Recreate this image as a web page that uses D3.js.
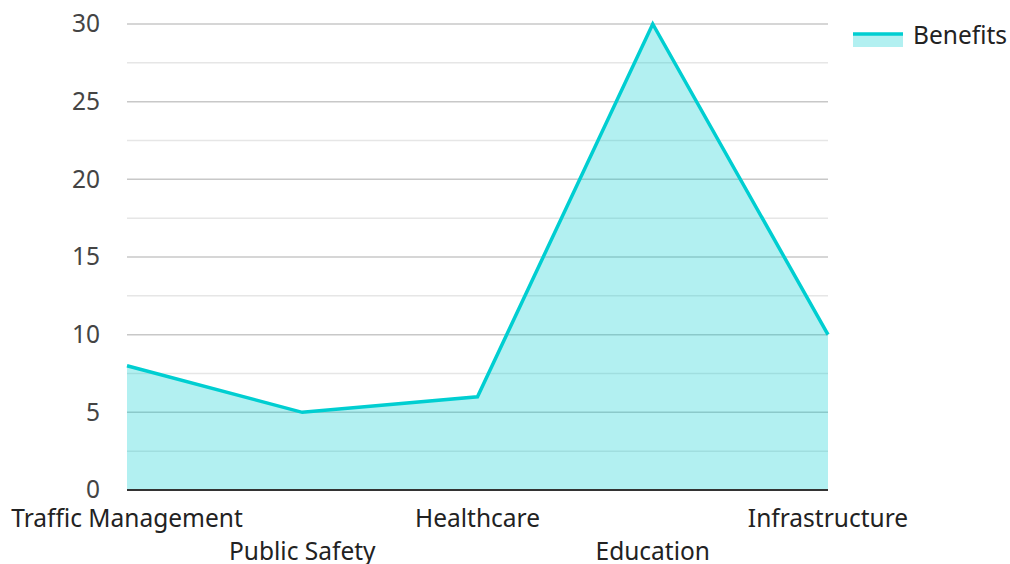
<!DOCTYPE html>
<html><head><meta charset="utf-8">
<script src="https://cdn.jsdelivr.net/npm/d3@7"></script>
<style>body{margin:0;background:#fff}svg{display:block}text{font-family:"Noto Sans","Open Sans",sans-serif}</style>
</head><body>
<script>
const categories = ["Traffic Management","Public Safety","Healthcare","Education","Infrastructure"];
const benefits = [8,5,6,30,10];
const yTicks = [0,5,10,15,20,25,30];
const seriesName = "Benefits";

const W=1010,H=564;
const m={l:127,r:182,t:24,b:74};
const FS=24.5;
const svg=d3.select("body").append("svg").attr("width",W).attr("height",H);
const x=d3.scalePoint().domain(categories).range([m.l,W-m.r]);
const y=d3.scaleLinear().domain([0,30]).range([H-m.b,m.t]);
const color="#00CED1";

// minor grid
svg.append("g").selectAll("line").data(d3.range(2.5,30,5)).join("line")
 .attr("x1",m.l).attr("x2",W-m.r).attr("y1",d=>y(d)).attr("y2",d=>y(d))
 .attr("stroke","#e6e6e6").attr("stroke-width",1.5);
// major grid
svg.append("g").selectAll("line").data(yTicks.slice(1)).join("line")
 .attr("x1",m.l).attr("x2",W-m.r).attr("y1",d=>y(d)).attr("y2",d=>y(d))
 .attr("stroke","#c8c8c8").attr("stroke-width",1.5);

const area=d3.area().x((d,i)=>x(categories[i])).y0(y(0)).y1(d=>y(d));
const line=d3.line().x((d,i)=>x(categories[i])).y(d=>y(d));
svg.append("path").datum(benefits).attr("d",area).attr("fill",color).attr("fill-opacity",0.3);
svg.append("path").datum(benefits).attr("d",line).attr("fill","none").attr("stroke",color).attr("stroke-width",3.5);

// y axis labels
const ya=svg.append("g").attr("transform",`translate(${m.l},0)`)
 .call(d3.axisLeft(y).tickValues(yTicks).tickSize(0).tickPadding(27));
ya.select(".domain").remove();
ya.selectAll("text").attr("font-size",FS).attr("fill","#444").attr("font-family","'Noto Sans','Open Sans',sans-serif");

// x axis
svg.append("line").attr("x1",m.l).attr("x2",W-m.r).attr("y1",y(0)).attr("y2",y(0)).attr("stroke","#333").attr("stroke-width",2);
svg.append("g").selectAll("text").data(categories).join("text")
 .attr("x",d=>x(d)).attr("y",(d,i)=>i%2? 560:527)
 .attr("text-anchor","middle").attr("font-size",FS).attr("fill","#222").text(d=>d);

// legend
const lg=svg.append("g");
lg.append("rect").attr("x",853).attr("y",33).attr("width",50).attr("height",14).attr("fill",color).attr("fill-opacity",0.3);
lg.append("line").attr("x1",853).attr("x2",903).attr("y1",34).attr("y2",34).attr("stroke",color).attr("stroke-width",3.5);
lg.append("text").attr("x",913).attr("y",44).attr("font-size",FS).attr("fill","#222").text(seriesName);
</script>
</body></html>
